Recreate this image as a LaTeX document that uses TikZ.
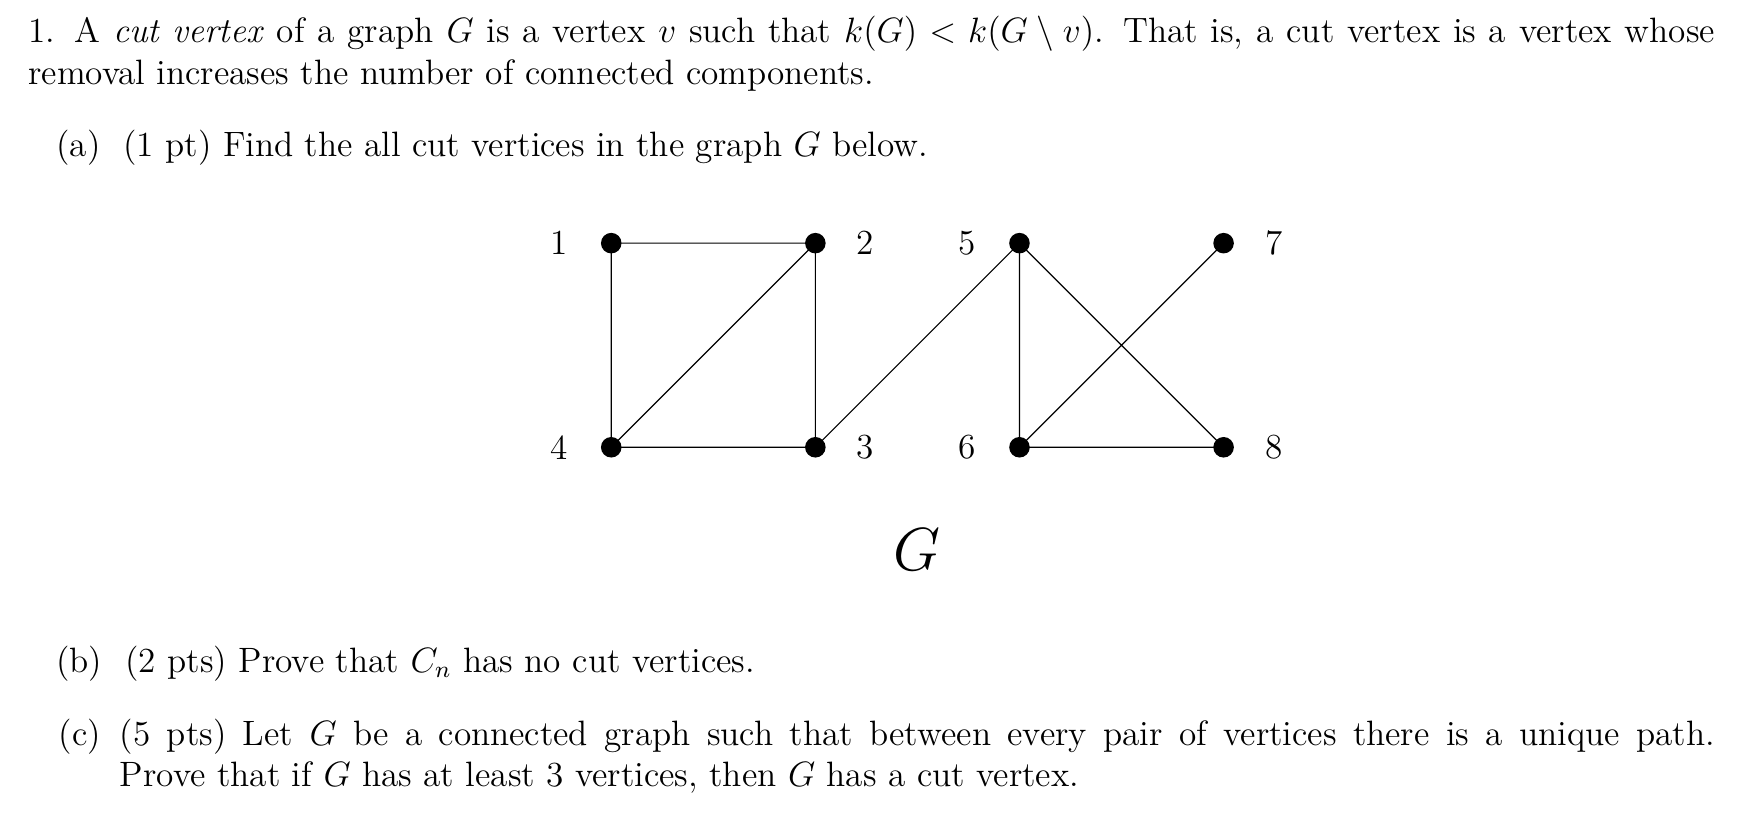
\documentclass[tikz,border=0pt]{standalone}
\begin{document}
\begin{tikzpicture}[x=0.38pt,y=-0.38pt,
  vtx/.style={circle,fill=black,inner sep=0pt,minimum size=7pt},
  lab/.style={font=\fontsize{12}{14.5}\selectfont},
  txt/.style={anchor=base west,inner sep=0pt,font=\fontsize{12}{14.5}\selectfont},
  edge/.style={line width=0.4pt}]
\useasboundingbox (0,0) rectangle (1560,741);
\node[txt] (l1) at (25,38) {\makebox[574.6pt][s]{1. A \emph{cut vertex} of a graph $G$ is a vertex $v$ such that $k(G)<k(G\setminus v)$. That is, a cut vertex is a vertex whose}};
\node[txt] (l2) at (25,76) {removal increases the number of connected components.};
\node[txt] (a) at (50,140) {(a)\ \ (1 pt) Find the all cut vertices in the graph $G$ below.};
\node[vtx] (v1) at (548,218) {};
\node[vtx] (v2) at (731,218) {};
\node[vtx] (v5) at (914,218) {};
\node[vtx] (v7) at (1097,218) {};
\node[vtx] (v4) at (548,401) {};
\node[vtx] (v3) at (731,401) {};
\node[vtx] (v6) at (914,401) {};
\node[vtx] (v8) at (1097,401) {};
\node[lab] (t1) at (501,218) {1};
\node[lab] (t2) at (776,218) {2};
\node[lab] (t5) at (867,218) {5};
\node[lab] (t7) at (1142,218) {7};
\node[lab] (t4) at (501,401) {4};
\node[lab] (t3) at (776,401) {3};
\node[lab] (t6) at (867,401) {6};
\node[lab] (t8) at (1142,401) {8};
\draw[edge] (v1.center)--(v2.center) (v1.center)--(v4.center) (v2.center)--(v4.center)
  (v2.center)--(v3.center) (v4.center)--(v3.center) (v3.center)--(v5.center)
  (v5.center)--(v6.center) (v5.center)--(v8.center) (v6.center)--(v7.center) (v6.center)--(v8.center);
\node[font=\fontsize{20.7}{24}\selectfont] (G) at (822,493) {$G$};
\node[txt] (b) at (50,603) {(b)\ \ (2 pts) Prove that $C_n$ has no cut vertices.};
\node[txt] (c) at (52,668) {(c)};
\node[txt] (c1) at (107,668) {\makebox[543.4pt][s]{(5 pts) Let $G$ be a connected graph such that between every pair of vertices there is a unique path.}};
\node[txt] (c2) at (107,705) {Prove that if $G$ has at least 3 vertices, then $G$ has a cut vertex.};
\end{tikzpicture}
\end{document}
